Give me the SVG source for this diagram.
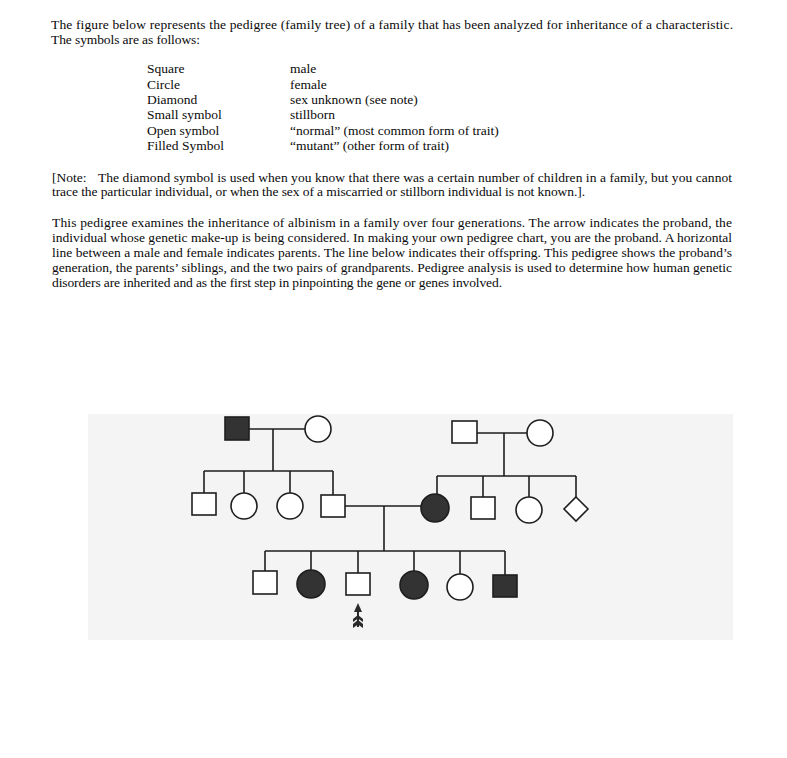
<svg xmlns="http://www.w3.org/2000/svg" width="787" height="758" viewBox="0 0 787 758">
<style>
text{font-family:"Liberation Serif","Times New Roman",serif;font-size:13.5px;fill:#0a0a0a}
.ln{stroke:#1e1e1e;stroke-width:1.6;fill:none}
.open{fill:#fff;stroke:#1e1e1e;stroke-width:1.6}
.fill{fill:#333;stroke:#1e1e1e;stroke-width:1.6}
</style>
<rect x="0" y="0" width="787" height="758" fill="#fff"/>
<g id="intro">
<text x="51" y="29" textLength="682" lengthAdjust="spacing">The figure below represents the pedigree (family tree) of a family that has been analyzed for inheritance of a characteristic.</text>
<text x="51" y="44" textLength="149" lengthAdjust="spacing">The symbols are as follows:</text>
</g>
<g id="legend">
<text x="147" y="73">Square</text><text x="290" y="73">male</text>
<text x="147" y="89">Circle</text><text x="290" y="89">female</text>
<text x="147" y="104">Diamond</text><text x="290" y="104">sex unknown (see note)</text>
<text x="147" y="119">Small symbol</text><text x="290" y="119">stillborn</text>
<text x="147" y="135">Open symbol</text><text x="290" y="135">“normal” (most common form of trait)</text>
<text x="147" y="150">Filled Symbol</text><text x="290" y="150">“mutant” (other form of trait)</text>
</g>
<g id="note">
<text x="52" y="182">[Note:</text>
<text x="98" y="182" textLength="634" lengthAdjust="spacing">The diamond symbol is used when you know that there was a certain number of children in a family, but you cannot</text>
<text x="52" y="196" textLength="533" lengthAdjust="spacing">trace the particular individual, or when the sex of a miscarried or stillborn individual is not known.].</text>
</g>
<g id="paragraph">
<text x="52" y="227" textLength="680" lengthAdjust="spacing">This pedigree examines the inheritance of albinism in a family over four generations.  The arrow indicates the proband, the</text>
<text x="52" y="242" textLength="680" lengthAdjust="spacing">individual whose genetic make-up is being considered.  In making your own pedigree chart, you are the proband.  A horizontal</text>
<text x="52" y="257" textLength="680" lengthAdjust="spacing">line between a male and female indicates parents.  The line below indicates their offspring.  This pedigree shows the proband’s</text>
<text x="52" y="272" textLength="680" lengthAdjust="spacing">generation, the parents’ siblings, and the two pairs of grandparents.  Pedigree analysis is used to determine how human genetic</text>
<text x="52" y="287" textLength="450" lengthAdjust="spacing">disorders are inherited and as the first step in pinpointing the gene or genes involved.</text>
</g>
<rect id="scan-background" x="88" y="414" width="645" height="226" fill="#f4f4f4"/>
<g id="connectors" class="ln">
<path d="M249 429H305M273 429V471M204 471H333M204 471V493M244 471V493M290 471V493M333 471V495"/>
<path d="M477 433H527M504 433V476M437 476H576M437 476V494M483 476V497M529 476V497M576 476V497"/>
<path d="M345 506H421M384 506V551M265 551H505M265 551V571M311 551V570M358 551V573M414 551V571M460 551V574M505 551V575"/>
</g>
<g id="I-1"><rect class="fill" x="225" y="417" width="24" height="23"/></g>
<g id="I-2"><circle class="open" cx="318" cy="429" r="13"/></g>
<g id="I-3"><rect class="open" x="452" y="421" width="25" height="22"/></g>
<g id="I-4"><circle class="open" cx="540" cy="433" r="13"/></g>
<g id="II-1"><rect class="open" x="192" y="493" width="24" height="22"/></g>
<g id="II-2"><circle class="open" cx="244" cy="506" r="13"/></g>
<g id="II-3"><circle class="open" cx="290" cy="506" r="13"/></g>
<g id="II-4"><rect class="open" x="321" y="495" width="24" height="22"/></g>
<g id="II-5"><circle class="fill" cx="435" cy="508" r="14"/></g>
<g id="II-6"><rect class="open" x="471" y="497" width="24" height="22"/></g>
<g id="II-7"><circle class="open" cx="529" cy="510" r="13"/></g>
<g id="II-8"><polygon class="open" points="576,497 588,509 576,521 564,509"/></g>
<g id="III-1"><rect class="open" x="253" y="571" width="24" height="23"/></g>
<g id="III-2"><circle class="fill" cx="311" cy="584" r="14"/></g>
<g id="III-3"><rect class="open" x="346" y="573" width="24" height="22"/></g>
<g id="III-4"><circle class="fill" cx="414" cy="585" r="14"/></g>
<g id="III-5"><circle class="open" cx="460" cy="587" r="13"/></g>
<g id="III-6"><rect class="fill" x="493" y="575" width="24" height="22"/></g>
<g id="proband-arrow" fill="#2a2a2a" stroke="none">
<polygon points="358,603 354,612 362,612"/>
<rect x="357" y="611" width="2" height="16"/>
<polygon points="353,619 358,615 363,619 363,622 358,618.5 353,622"/>
<polygon points="353,624 358,620 363,624 363,628 358,624.5 353,628"/>
</g>
</svg>
